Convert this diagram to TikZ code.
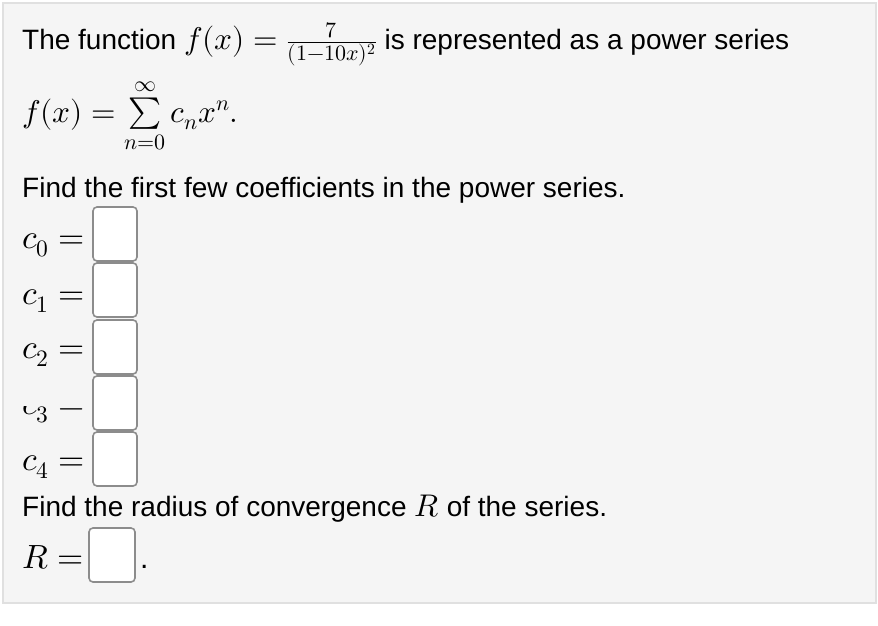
\documentclass[tikz,border=0pt]{standalone}
\usepackage{amsmath}
\usepackage{fontspec}
\setmainfont{Liberation Sans}
\usepackage{unicode-math}
\setmathfont[Scale=1.12]{Latin Modern Math}
\begin{document}
\begin{tikzpicture}[x=1pt,y=-1pt,
  txt/.style={anchor=base west,inner sep=0pt,font=\fontsize{28}{32}\selectfont},
  mth/.style={anchor=base west,inner sep=0pt,font=\fontsize{30}{34}\selectfont},
  ansbox/.style={draw=black!45,line width=1.6pt,fill=white,rounded corners=4pt}]
\useasboundingbox (0,0) rectangle (878,626);
\fill[white] (0,0) rectangle (878,626);
\draw[fill=black!4,draw=black!12,line width=1.5pt] (3,3) rectangle (876,603);
\node[txt] (l1) at (22,50) {The function $f(x)=\frac{7}{(1-10x)^2}$ is represented as a power series};
\node[txt] (l2) at (22,122) {$f(x)=\sum\limits_{n=0}^{\infty} c_n x^n.$};
\node[txt] (l3) at (22,197) {Find the first few coefficients in the power series.};
\foreach \i/\y/\b in {0/207/248,1/263/304,2/320/358,4/432/470}{
  \node[mth,anchor=base west] (c\i) at (22,\b) {$c_{\i}=$};
  \draw[ansbox] (93,\y) rectangle (137,\y+54);
}
\begin{scope}
\clip (0,406) rectangle (90,440);
\node[mth,anchor=base west] (c3) at (22,414) {$c_{3}=$};
\end{scope}
\draw[ansbox] (93,376) rectangle (137,430);
\node[txt] (l4) at (22,516) {Find the radius of convergence $R$ of the series.};
\node[mth,anchor=base west] (rr) at (22,568) {$R=$};
\draw[ansbox] (89,528) rectangle (135,582);
\node[mth] (dot) at (140,568) {.};
\end{tikzpicture}
\end{document}
